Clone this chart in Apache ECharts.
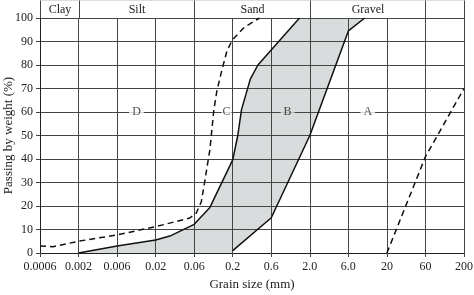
<!DOCTYPE html>
<html>
<head>
<meta charset="utf-8">
<script src="https://cdn.jsdelivr.net/npm/echarts@6/dist/echarts.min.js"></script>
<style>
  html, body { margin: 0; padding: 0; background: #fff; }
  #chart { width: 474px; height: 295px; }
</style>
</head>
<body>
<div id="chart"></div>
<script>
'use strict';

// grain size ticks (mm) - drawn evenly spaced on the chart
const sizeTicks = [0.0006, 0.002, 0.006, 0.02, 0.06, 0.2, 0.6, 2, 6, 20, 60, 200];
const sizeTickLabels = ['0.0006', '0.002', '0.006', '0.02', '0.06', '0.2', '0.6', '2.0', '6.0', '20', '60', '200'];

// soil classes across the top
const zoneNames = ['Clay', 'Silt', 'Sand', 'Gravel', ''];
const zoneBounds = [0.0006, 0.002, 0.06, 2, 60, 200];

// curve D (dashed)
const curveDSize = [0.0006, 0.0009, 0.002, 0.006, 0.02, 0.053, 0.064, 0.075, 0.084, 0.098, 0.111, 0.122, 0.143, 0.167, 0.197, 0.277, 0.43];
const curveDPass = [3, 2.7, 5, 7.7, 11.2, 14.9, 17, 21.8, 31, 44, 61, 69, 78, 86, 90.6, 96, 100];

// curve C (solid, left edge of band)
const curveCSize = [0.002, 0.006, 0.02, 0.03, 0.06, 0.098, 0.2, 0.231, 0.257, 0.33, 0.41, 1.45];
const curveCPass = [0, 3, 5.5, 7.2, 12.2, 19.4, 39.6, 50, 61, 74, 80, 100];

// curve B (solid, right edge of band)
const curveBSize = [0.2, 0.6, 2, 6, 10];
const curveBPass = [1, 15, 50, 94.5, 100];

// curve A (dashed)
const curveASize = [20, 60, 200];
const curveAPass = [0, 41, 70];

// curve letters, all sitting on the 60 % line
const curveNames = ['D', 'C', 'B', 'A'];
const curveNameSize = [0.011, 0.165, 1.0, 11];
const curveNamePass = [60, 60, 60, 60];

const serif = 'Liberation Serif, DejaVu Serif, serif';
const shade = '#d9dcdc';
const gridColor = '#444';

// position on the evenly spaced tick scale
function sizeToPos(mm) {
    const n = sizeTicks.length;
    for (let i = 0; i < n - 1; i++) {
        if (mm <= sizeTicks[i + 1] || i === n - 2) {
            return i + Math.log(mm / sizeTicks[i]) / Math.log(sizeTicks[i + 1] / sizeTicks[i]);
        }
    }
}

function toPoints(sizes, pass) {
    return sizes.map((s, i) => [sizeToPos(s), pass[i]]);
}

const ptsD = toPoints(curveDSize, curveDPass);
const ptsC = toPoints(curveCSize, curveCPass);
const ptsB = toPoints(curveBSize, curveBPass);
const ptsA = toPoints(curveASize, curveAPass);

// band between C and B
const bandPoly = ptsC
    .concat([[ptsB[ptsB.length - 1][0], 100]])
    .concat(ptsB.slice().reverse())
    .concat([[ptsB[0][0], 0]]);

const zoneData = zoneNames.map((name, i) => [sizeToPos(zoneBounds[i]), sizeToPos(zoneBounds[i + 1]), name]);

const labelData = curveNames.map((name, i) => ({
    value: [sizeToPos(curveNameSize[i]), curveNamePass[i]],
    name: name,
    label: {
        backgroundColor: name === 'B' ? shade : '#fff',
        padding: name === 'C' ? [0, 1] : [0, 3]
    }
}));

function lineSeries(data, dashed) {
    return {
        type: 'line',
        data: data,
        symbol: 'none',
        z: 3,
        animation: false,
        lineStyle: { color: '#111', width: 1.5, type: dashed ? [6, 4] : 'solid' }
    };
}

const chart = echarts.init(document.getElementById('chart'));

const option = {
    animation: false,
    grid: [
        { left: 40, right: 10, top: 18, bottom: 42, outerBoundsMode: 'none', containLabel: false },
        { left: 40, right: 10, top: 0, height: 18, outerBoundsMode: 'none', containLabel: false }
    ],
    xAxis: [
        {
            type: 'value',
            min: 0,
            max: 11,
            interval: 1,
            z: 1,
            name: 'Grain size (mm)',
            nameLocation: 'middle',
            nameGap: 25,
            nameMoveOverlap: false,
            nameTextStyle: { fontFamily: serif, fontSize: 13, color: '#222' },
            axisLine: { lineStyle: { color: '#222', width: 1 } },
            axisTick: { length: 4, lineStyle: { color: gridColor } },
            axisLabel: {
                margin: 8,
                fontFamily: serif,
                fontSize: 12,
                color: '#222',
                formatter: v => sizeTickLabels[Math.round(v)]
            },
            splitLine: { show: true, lineStyle: { color: gridColor, width: 1 } }
        },
        { type: 'value', gridIndex: 1, min: 0, max: 11, show: false }
    ],
    yAxis: [
        {
            type: 'value',
            min: 0,
            max: 100,
            interval: 10,
            z: 1,
            name: 'Passing by weight (%)',
            nameLocation: 'middle',
            nameGap: 25,
            nameMoveOverlap: false,
            nameTextStyle: { fontFamily: serif, fontSize: 13, color: '#222' },
            axisLine: { show: true, lineStyle: { color: '#222', width: 1 } },
            axisTick: { show: true, length: 4, lineStyle: { color: gridColor } },
            axisLabel: { margin: 7, fontFamily: serif, fontSize: 12, color: '#222' },
            splitLine: { show: true, lineStyle: { color: gridColor, width: 1 } }
        },
        { type: 'value', gridIndex: 1, min: 0, max: 1, show: false }
    ],
    series: [
        {
            type: 'custom',
            z: 0,
            silent: true,
            data: [[0, 0]],
            renderItem: function (params, api) {
                return {
                    type: 'polygon',
                    shape: { points: bandPoly.map(p => api.coord(p)) },
                    style: { fill: shade }
                };
            }
        },
        lineSeries(ptsD, true),
        lineSeries(ptsC, false),
        lineSeries(ptsB, false),
        lineSeries(ptsA, true),
        {
            type: 'scatter',
            z: 4,
            symbolSize: 0,
            data: labelData,
            label: {
                show: true,
                position: 'inside',
                formatter: p => p.name,
                fontFamily: serif,
                fontSize: 12,
                color: '#222'
            }
        },
        {
            type: 'custom',
            xAxisIndex: 1,
            yAxisIndex: 1,
            silent: true,
            data: zoneData,
            renderItem: function (params, api) {
                const tl = api.coord([api.value(0), 1]);
                const br = api.coord([api.value(1), 0]);
                const x0 = Math.round(tl[0]) + 0.5;
                const x1 = Math.round(br[0]) + 0.5;
                return {
                    type: 'group',
                    children: [
                        { type: 'line', shape: { x1: x0, y1: tl[1], x2: x0, y2: br[1] }, style: { stroke: gridColor, lineWidth: 1 } },
                        { type: 'line', shape: { x1: x1, y1: tl[1], x2: x1, y2: br[1] }, style: { stroke: gridColor, lineWidth: 1 } },
                        { type: 'line', shape: { x1: x0, y1: 0.5, x2: x1, y2: 0.5 }, style: { stroke: '#ddd', lineWidth: 1 } },
                        {
                            type: 'text',
                            x: (x0 + x1) / 2,
                            y: (tl[1] + br[1]) / 2 + 1,
                            style: {
                                text: zoneData[params.dataIndex][2],
                                align: 'center',
                                verticalAlign: 'middle',
                                fontFamily: serif,
                                fontSize: 12,
                                fill: '#222'
                            }
                        }
                    ]
                };
            }
        }
    ]
};

chart.setOption(option);
window.addEventListener('resize', function () {
    chart.resize();
});
</script>
</body>
</html>
